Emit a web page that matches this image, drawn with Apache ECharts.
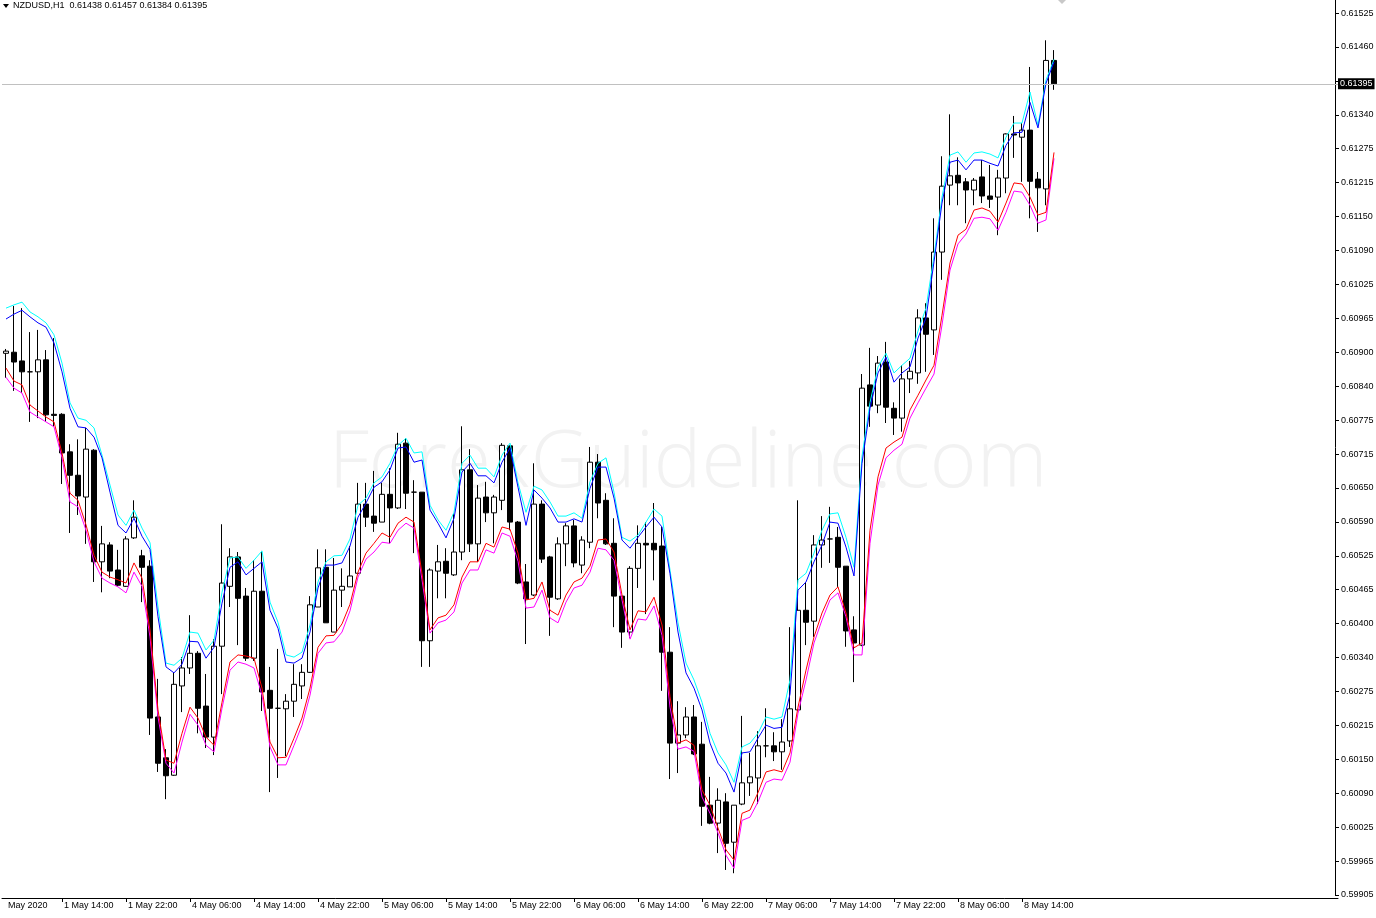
<!DOCTYPE html>
<html>
<head>
<meta charset="utf-8">
<script src="https://cdn.jsdelivr.net/npm/echarts@6/dist/echarts.min.js"></script>
<style>
html,body{margin:0;padding:0;background:#fff;}
#chart{width:1376px;height:918px;}
</style>
</head>
<body>
<div id="chart"></div>
<script>
// ---- data (NZDUSD H1, 1 May 07:00 .. 8 May 18:00) ----
const symbolTitle = 'NZDUSD,H1  0.61438 0.61457 0.61384 0.61395';
const open = [0.60900,0.60902,0.60886,0.60866,0.60866,0.60888,0.60788,0.60788,0.60719,0.60676,0.60636,0.60722,0.60517,0.60548,0.60502,0.60472,0.60561,0.60528,0.60509,0.60232,0.60157,0.60125,0.60289,0.60322,0.60349,0.60252,0.60195,0.60362,0.60472,0.60526,0.60454,0.60340,0.60463,0.60281,0.60248,0.60247,0.60261,0.60289,0.60314,0.60434,0.60507,0.60388,0.60465,0.60471,0.60496,0.60623,0.60601,0.60590,0.60641,0.60616,0.60735,0.60645,0.60645,0.60372,0.60500,0.60518,0.60493,0.60535,0.60686,0.60550,0.60636,0.60607,0.60630,0.60730,0.60590,0.60480,0.60456,0.60623,0.60526,0.60449,0.60550,0.60583,0.60511,0.60553,0.60700,0.60630,0.60551,0.60454,0.60388,0.60505,0.60551,0.60551,0.60546,0.60351,0.60184,0.60199,0.60232,0.60182,0.60070,0.60037,0.60076,0.60002,0.60072,0.60111,0.60120,0.60179,0.60179,0.60168,0.60188,0.60245,0.60428,0.60408,0.60548,0.60559,0.60562,0.60509,0.60392,0.60364,0.60842,0.60805,0.60884,0.60799,0.60781,0.60853,0.60864,0.60965,0.60943,0.61086,0.61209,0.61227,0.61215,0.61200,0.61224,0.61189,0.61187,0.61222,0.61303,0.61297,0.61310,0.61220,0.61202,0.61438];
const high = [0.60908,0.60987,0.60983,0.60939,0.60943,0.60906,0.60928,0.60790,0.60733,0.60742,0.60763,0.60724,0.60583,0.60553,0.60539,0.60564,0.60630,0.60539,0.60520,0.60302,0.60173,0.60313,0.60342,0.60419,0.60353,0.60311,0.60375,0.60586,0.60542,0.60535,0.60469,0.60520,0.60537,0.60324,0.60357,0.60274,0.60329,0.60329,0.60454,0.60540,0.60540,0.60524,0.60505,0.60546,0.60662,0.60662,0.60684,0.60662,0.60689,0.60754,0.60744,0.60667,0.60645,0.60505,0.60548,0.60542,0.60605,0.60766,0.60724,0.60658,0.60664,0.60640,0.60735,0.60730,0.60592,0.60513,0.60698,0.60630,0.60528,0.60562,0.60588,0.60594,0.60564,0.60728,0.60715,0.60643,0.60597,0.60454,0.60509,0.60584,0.60590,0.60625,0.60581,0.60397,0.60261,0.60250,0.60254,0.60223,0.60122,0.60101,0.60092,0.60070,0.60234,0.60166,0.60206,0.60248,0.60204,0.60228,0.60397,0.60630,0.60480,0.60566,0.60601,0.60618,0.60581,0.60509,0.60417,0.60862,0.60910,0.60895,0.60921,0.60810,0.60878,0.60886,0.60981,0.60992,0.61148,0.61262,0.61339,0.61260,0.61222,0.61222,0.61255,0.61246,0.61237,0.61304,0.61336,0.61323,0.61426,0.61233,0.61475,0.61457];
const low = [0.60855,0.60831,0.60827,0.60774,0.60781,0.60774,0.60765,0.60660,0.60570,0.60603,0.60550,0.60480,0.60461,0.60487,0.60472,0.60471,0.60559,0.60443,0.60199,0.60131,0.60081,0.60124,0.60241,0.60311,0.60202,0.60175,0.60162,0.60274,0.60434,0.60364,0.60335,0.60335,0.60243,0.60094,0.60120,0.60160,0.60232,0.60265,0.60313,0.60434,0.60405,0.60388,0.60434,0.60471,0.60496,0.60581,0.60572,0.60590,0.60551,0.60614,0.60614,0.60533,0.60324,0.60324,0.60450,0.60450,0.60491,0.60520,0.60535,0.60517,0.60590,0.60551,0.60612,0.60575,0.60476,0.60366,0.60454,0.60515,0.60381,0.60447,0.60509,0.60507,0.60496,0.60542,0.60597,0.60548,0.60397,0.60359,0.60377,0.60469,0.60421,0.60483,0.60280,0.60118,0.60129,0.60193,0.60162,0.60032,0.60035,0.59982,0.59951,0.59945,0.60070,0.60087,0.60072,0.60158,0.60151,0.60135,0.60177,0.60243,0.60364,0.60379,0.60506,0.60515,0.60471,0.60361,0.60296,0.60362,0.60765,0.60790,0.60772,0.60750,0.60756,0.60827,0.60844,0.60866,0.60897,0.61035,0.61172,0.61172,0.61139,0.61172,0.61176,0.61167,0.61117,0.61194,0.61259,0.61215,0.61148,0.61123,0.61172,0.61384];
const close = [0.60904,0.60884,0.60866,0.60866,0.60888,0.60787,0.60786,0.60717,0.60676,0.60638,0.60724,0.60517,0.60550,0.60500,0.60474,0.60559,0.60599,0.60507,0.60230,0.60147,0.60124,0.60292,0.60322,0.60349,0.60248,0.60195,0.60362,0.60478,0.60526,0.60450,0.60340,0.60463,0.60278,0.60248,0.60248,0.60261,0.60292,0.60314,0.60438,0.60506,0.60405,0.60465,0.60472,0.60491,0.60623,0.60599,0.60588,0.60641,0.60616,0.60733,0.60643,0.60645,0.60372,0.60502,0.60517,0.60496,0.60535,0.60686,0.60550,0.60634,0.60607,0.60636,0.60731,0.60590,0.60478,0.60449,0.60623,0.60522,0.60452,0.60550,0.60583,0.60515,0.60557,0.60700,0.60625,0.60550,0.60454,0.60388,0.60505,0.60551,0.60548,0.60539,0.60351,0.60184,0.60199,0.60232,0.60164,0.60068,0.60037,0.60079,0.60000,0.60070,0.60111,0.60122,0.60179,0.60179,0.60168,0.60186,0.60247,0.60428,0.60406,0.60548,0.60557,0.60559,0.60507,0.60390,0.60368,0.60836,0.60803,0.60882,0.60801,0.60781,0.60853,0.60867,0.60965,0.60935,0.61086,0.61207,0.61226,0.61213,0.61200,0.61218,0.61189,0.61183,0.61222,0.61303,0.61301,0.61310,0.61216,0.61204,0.61438,0.61395];
const blueLine = [0.60963,0.60972,0.60979,0.60967,0.60956,0.60948,0.60919,0.60866,0.60799,0.60765,0.60763,0.60746,0.60708,0.60645,0.60584,0.60570,0.60597,0.60564,0.60540,0.60416,0.60324,0.60313,0.60329,0.60371,0.60370,0.60340,0.60360,0.60441,0.60507,0.60517,0.60493,0.60505,0.60517,0.60428,0.60395,0.60333,0.60331,0.60340,0.60388,0.60469,0.60511,0.60511,0.60515,0.60546,0.60599,0.60625,0.60654,0.60664,0.60686,0.60726,0.60728,0.60700,0.60704,0.60612,0.60588,0.60561,0.60597,0.60682,0.60698,0.60675,0.60675,0.60662,0.60700,0.60726,0.60654,0.60584,0.60649,0.60634,0.60616,0.60590,0.60590,0.60596,0.60590,0.60652,0.60691,0.60691,0.60634,0.60557,0.60542,0.60562,0.60581,0.60599,0.60581,0.60495,0.60388,0.60313,0.60285,0.60245,0.60184,0.60147,0.60129,0.60094,0.60166,0.60168,0.60193,0.60217,0.60211,0.60213,0.60274,0.60465,0.60480,0.60517,0.60548,0.60590,0.60588,0.60544,0.60491,0.60698,0.60799,0.60864,0.60893,0.60847,0.60864,0.60875,0.60928,0.60965,0.61068,0.61176,0.61251,0.61255,0.61237,0.61255,0.61255,0.61249,0.61244,0.61282,0.61305,0.61306,0.61361,0.61314,0.61396,0.61435];
const cyanLine = [0.60983,0.60989,0.60994,0.60976,0.60967,0.60956,0.60934,0.60882,0.60809,0.60781,0.60777,0.60763,0.60713,0.60658,0.60603,0.60584,0.60612,0.60579,0.60552,0.60434,0.60331,0.60327,0.60340,0.60388,0.60386,0.60355,0.60373,0.60461,0.60524,0.60526,0.60505,0.60520,0.60537,0.60443,0.60406,0.60346,0.60342,0.60351,0.60401,0.60480,0.60517,0.60528,0.60529,0.60559,0.60621,0.60634,0.60662,0.60673,0.60698,0.60731,0.60744,0.60717,0.60719,0.60621,0.60594,0.60575,0.60608,0.60698,0.60713,0.60689,0.60689,0.60673,0.60713,0.60735,0.60662,0.60608,0.60656,0.60649,0.60627,0.60601,0.60601,0.60607,0.60597,0.60664,0.60698,0.60708,0.60645,0.60562,0.60555,0.60566,0.60590,0.60614,0.60601,0.60502,0.60405,0.60331,0.60300,0.60259,0.60202,0.60166,0.60144,0.60112,0.60177,0.60184,0.60202,0.60232,0.60228,0.60232,0.60300,0.60484,0.60496,0.60533,0.60575,0.60605,0.60607,0.60562,0.60507,0.60711,0.60810,0.60875,0.60900,0.60864,0.60878,0.60891,0.60941,0.60983,0.61079,0.61187,0.61264,0.61270,0.61251,0.61268,0.61270,0.61266,0.61259,0.61297,0.61323,0.61323,0.61380,0.61319,0.61402,0.61440];
const redLine = [0.60873,0.60849,0.60842,0.60805,0.60794,0.60783,0.60774,0.60717,0.60643,0.60630,0.60585,0.60529,0.60498,0.60489,0.60484,0.60478,0.60515,0.60487,0.60392,0.60245,0.60153,0.60147,0.60202,0.60250,0.60230,0.60195,0.60180,0.60259,0.60333,0.60346,0.60344,0.60340,0.60285,0.60186,0.60157,0.60158,0.60193,0.60230,0.60285,0.60360,0.60381,0.60382,0.60403,0.60439,0.60498,0.60533,0.60551,0.60570,0.60562,0.60588,0.60599,0.60590,0.60496,0.60392,0.60414,0.60419,0.60438,0.60489,0.60517,0.60517,0.60551,0.60544,0.60581,0.60577,0.60533,0.60447,0.60450,0.60480,0.60428,0.60419,0.60456,0.60480,0.60487,0.60509,0.60557,0.60559,0.60535,0.60456,0.60392,0.60427,0.60425,0.60452,0.60401,0.60269,0.60184,0.60190,0.60180,0.60098,0.60070,0.60028,0.59988,0.59969,0.60055,0.60061,0.60093,0.60131,0.60135,0.60131,0.60166,0.60250,0.60318,0.60379,0.60423,0.60456,0.60471,0.60423,0.60359,0.60368,0.60575,0.60673,0.60726,0.60737,0.60746,0.60796,0.60823,0.60851,0.60878,0.60970,0.61066,0.61117,0.61128,0.61163,0.61167,0.61161,0.61141,0.61176,0.61213,0.61211,0.61187,0.61154,0.61159,0.61269];
const magentaLine = [0.60856,0.60836,0.60827,0.60792,0.60783,0.60774,0.60765,0.60708,0.60627,0.60618,0.60575,0.60517,0.60487,0.60478,0.60471,0.60460,0.60498,0.60472,0.60379,0.60232,0.60147,0.60129,0.60186,0.60237,0.60217,0.60180,0.60168,0.60248,0.60318,0.60333,0.60329,0.60322,0.60272,0.60177,0.60144,0.60144,0.60180,0.60217,0.60272,0.60349,0.60368,0.60370,0.60388,0.60427,0.60489,0.60522,0.60535,0.60553,0.60551,0.60575,0.60588,0.60579,0.60484,0.60386,0.60405,0.60410,0.60425,0.60478,0.60502,0.60502,0.60539,0.60533,0.60570,0.60564,0.60518,0.60432,0.60434,0.60465,0.60414,0.60405,0.60443,0.60469,0.60474,0.60498,0.60542,0.60539,0.60520,0.60447,0.60375,0.60412,0.60410,0.60436,0.60382,0.60250,0.60173,0.60177,0.60169,0.60085,0.60055,0.60019,0.59978,0.59954,0.60042,0.60048,0.60076,0.60112,0.60118,0.60116,0.60149,0.60239,0.60300,0.60368,0.60410,0.60447,0.60460,0.60416,0.60346,0.60346,0.60551,0.60658,0.60708,0.60722,0.60733,0.60781,0.60809,0.60836,0.60862,0.60952,0.61053,0.61101,0.61119,0.61148,0.61150,0.61147,0.61126,0.61159,0.61198,0.61196,0.61172,0.61139,0.61145,0.61258];
const yTickLabels = ['0.59905','0.59965','0.60025','0.60090','0.60150','0.60215','0.60275','0.60340','0.60400','0.60465','0.60525','0.60590','0.60650','0.60715','0.60775','0.60840','0.60900','0.60965','0.61025','0.61090','0.61150','0.61215','0.61275','0.61340','','0.61460','0.61525'];
const firstLabel = 'May 2020';
const sessions = [['1 May',7,23],['4 May',0,23],['5 May',0,23],['6 May',0,23],['7 May',0,23],['8 May',0,18]];
const lastPrice = 0.61395;

// ---- categories ----
const times = [];
sessions.forEach(([d,h0,h1])=>{for(let h=h0;h<=h1;h++){times.push(d+' '+String(h).padStart(2,'0')+':00');}});
const nBars = times.length;           // 132
const totalSlots = 167;               // chart shift area on the right
const cats = times.slice();
while (cats.length < totalSlots) cats.push('');

const yMin = 0.59905, yMax = 0.61549;
const yStep = (0.61525 - 0.59905) / 26;
const yTickValues = yTickLabels.map((_, k) => yMin + k * yStep);

const candleData = open.map((o, i) => [o, close[i], low[i], high[i]]);
const showX = (i) => i < nBars && i >= 7 && (i - 7) % 8 === 0;

const font = 'Liberation Sans, Arial, sans-serif';
const chart = echarts.init(document.getElementById('chart'), null, {renderer: 'canvas'});
chart.setOption({
  animation: false,
  backgroundColor: '#ffffff',
  grid: {left: 2, top: 0, width: 1336, height: 895, containLabel: false, outerBoundsMode: 'none'},
  xAxis: {
    type: 'category', data: cats, boundaryGap: true, offset: 3,
    axisLine: {show: true, lineStyle: {color: '#000', width: 1}},
    axisTick: {show: true, alignWithLabel: true, length: 4, interval: (i) => showX(i), lineStyle: {color: '#000'}},
    axisLabel: {
      show: true, interval: (i) => i === 0 || showX(i), align: 'left', margin: 3,
      color: '#000', fontSize: 9, fontFamily: font, padding: [0, 0, 0, 2],
      formatter: (v, i) => (i === 0 ? firstLabel : v)
    },
    splitLine: {show: false}
  },
  yAxis: {
    type: 'value', position: 'right', min: yMin, max: yMax, offset: -3,
    axisLine: {show: true, lineStyle: {color: '#000', width: 1}},
    axisTick: {show: true, length: 4, customValues: yTickValues, lineStyle: {color: '#000'}},
    axisLabel: {
      show: true, customValues: yTickValues, margin: 6, color: '#000', fontSize: 9, fontFamily: font,
      formatter: (v) => { const k = Math.round((v - yMin) / yStep); return Math.abs((v - yMin) / yStep - k) < 0.01 ? (yTickLabels[k] || '') : ''; }
    },
    splitLine: {show: false}
  },
  graphic: [
    {type: 'text', left: 'center', top: 424, z: 0, silent: true,
     style: {text: 'ForexGuideline.com', fill: '#f2f2f2', font: '300 80px "Open Sans", sans-serif'}},
    {type: 'polygon', z: 10, shape: {points: [[3,4],[9,4],[6,8]]}, style: {fill: '#000'}},
    {type: 'text', z: 10, left: 13, top: 1, style: {text: symbolTitle, fill: '#000', font: '9px ' + font}},
    {type: 'polygon', z: 10, shape: {points: [[1058,0],[1066,0],[1062,4]]}, style: {fill: '#c8c8c8'}}
  ],
  series: [
    {
      type: 'candlestick', data: candleData, barWidth: 5, z: 2,
      itemStyle: {color: '#ffffff', color0: '#000000', borderColor: '#000000', borderColor0: '#000000', borderWidth: 1}
    },
    {type: 'line', data: cyanLine, symbol: 'none', z: 3, lineStyle: {color: '#00ffff', width: 1}, itemStyle: {color: '#00ffff'},
      markLine: {
        silent: true, symbol: ['none', 'none'], animation: false, precision: 5,
        lineStyle: {color: '#c0c0c0', width: 1, type: 'solid'},
        label: {show: true, position: 'end', distance: 0, formatter: lastPrice.toFixed(5),
                color: '#fff', backgroundColor: '#000', padding: [1, 2, 1, 2], fontSize: 9, fontFamily: font},
        data: [{yAxis: lastPrice}]
      }
    },
    {type: 'line', data: blueLine, symbol: 'none', z: 3, lineStyle: {color: '#0000ff', width: 1}, itemStyle: {color: '#0000ff'}},
    {type: 'line', data: magentaLine, symbol: 'none', z: 3, lineStyle: {color: '#ff00ff', width: 1}, itemStyle: {color: '#ff00ff'}},
    {type: 'line', data: redLine, symbol: 'none', z: 3, lineStyle: {color: '#ff0000', width: 1}, itemStyle: {color: '#ff0000'}}
  ]
});
</script>
</body>
</html>
